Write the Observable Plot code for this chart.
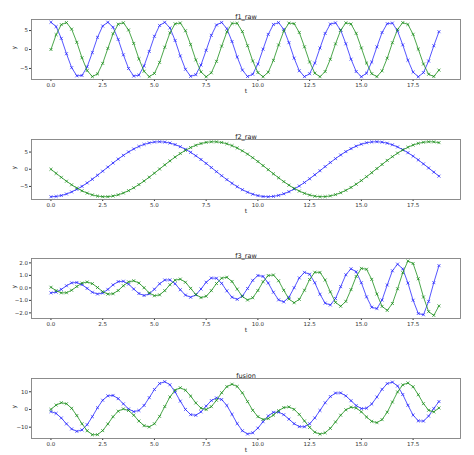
<!DOCTYPE html>
<html><head><meta charset="utf-8">
<script src="https://cdn.jsdelivr.net/npm/d3@7"></script>
<script src="https://cdn.jsdelivr.net/npm/@observablehq/plot@0.6"></script>
<style>
body{margin:0;background:#fff;width:474px;height:455px;position:relative;overflow:hidden;font-family:"DejaVu Sans",sans-serif}
.panel{position:absolute;left:0}
</style></head><body>
<script>
const t = [0,0.25,0.5,0.75,1,1.25,1.5,1.75,2,2.25,2.5,2.75,3,3.25,3.5,3.75,4,4.25,4.5,4.75,5,5.25,5.5,5.75,6,6.25,6.5,6.75,7,7.25,7.5,7.75,8,8.25,8.5,8.75,9,9.25,9.5,9.75,10,10.25,10.5,10.75,11,11.25,11.5,11.75,12,12.25,12.5,12.75,13,13.25,13.5,13.75,14,14.25,14.5,14.75,15,15.25,15.5,15.75,16,16.25,16.5,16.75,17,17.25,17.5,17.75,18,18.25,18.5,18.75];

const f1Blue = [7.20,6.04,2.94,-1.11,-4.80,-6.95,-6.86,-4.57,-0.81,3.22,
6.20,7.19,5.87,2.67,-1.40,-5.02,-7.02,-6.76,-4.33,-0.51,
3.48,6.35,7.17,5.70,2.38,-1.70,-5.23,-7.08,-6.65,-4.09,
-0.21,3.74,6.48,7.14,5.50,2.10,-1.99,-5.43,-7.13,-6.53,
-3.84,0.09,3.99,6.61,7.10,5.31,1.81,-2.28,-5.62,-7.16,
-6.40,-3.58,0.39,4.24,6.72,7.04,5.10,1.51,-2.56,-5.81,
-7.19,-6.25,-3.31,0.69,4.48,6.82,6.97,4.88,1.22,-2.84,
-5.98,-7.20,-6.10,-3.04,0.99,4.71];
const f1Green = [0,3.92,6.57,7.11,5.37,1.90,-2.19,-5.56,-7.15,-6.44,
-3.66,0.30,4.16,6.69,7.06,5.16,1.60,-2.47,-5.75,-7.18,
-6.31,-3.40,0.60,4.40,6.79,7.00,4.95,1.31,-2.75,-5.92,
-7.20,-6.15,-3.13,0.90,4.64,6.89,6.92,4.73,1.01,-3.03,
-6.09,-7.20,-5.99,-2.86,1.20,4.87,6.97,6.83,4.50,0.71,
-3.30,-6.25,-7.19,-5.82,-2.58,1.49,5.08,7.04,6.73,4.26,
0.41,-3.57,-6.39,-7.17,-5.64,-2.29,1.79,5.29,7.10,6.62,
4.01,0.11,-3.83,-6.53,-7.13,-5.44];

const f2Blue = [-8.00,-7.91,-7.64,-7.20,-6.60,-5.85,-4.97,-3.98,-2.90,-1.75,
-0.57,0.63,1.82,2.96,4.04,5.03,5.90,6.64,7.23,7.66,
7.92,8.00,7.90,7.62,7.17,6.56,5.81,4.92,3.92,2.84,
1.69,0.50,-0.70,-1.88,-3.02,-4.10,-5.08,-5.95,-6.68,-7.26,
-7.68,-7.93,-8.00,-7.89,-7.60,-7.14,-6.53,-5.76,-4.87,-3.86,
-2.77,-1.62,-0.43,0.77,1.95,3.09,4.15,5.13,5.99,6.72,
7.29,7.70,7.94,8.00,7.88,7.58,7.11,6.48,5.71,4.81,
3.80,2.71,1.55,0.37,-0.83,-2.01];
const f2Green = [0,-1.20,-2.36,-3.48,-4.52,-5.45,-6.27,-6.94,-7.46,-7.81,
-7.98,-7.98,-7.79,-7.43,-6.91,-6.22,-5.40,-4.46,-3.42,-2.30,
-1.13,0.07,1.26,2.43,3.54,4.57,5.50,6.31,6.97,7.48,
7.82,7.98,7.97,7.78,7.41,6.87,6.18,5.35,4.41,3.36,
2.24,1.06,-0.13,-1.33,-2.49,-3.60,-4.63,-5.56,-6.35,-7.00,
-7.50,-7.84,-7.99,-7.96,-7.76,-7.38,-6.84,-6.14,-5.30,-4.35,
-3.30,-2.17,-1.00,0.20,1.39,2.57,3.66,4.68,5.60,6.40,
7.04,7.53,7.85,7.99,7.96,7.74];

const f3Blue = [-0.40,-0.34,-0.12,0.17,0.40,0.43,0.26,-0.04,-0.35,-0.49,
-0.41,-0.12,0.24,0.50,0.53,0.30,-0.09,-0.45,-0.61,-0.48,
-0.11,0.33,0.63,0.64,0.33,-0.15,-0.58,-0.75,-0.56,-0.09,
0.45,0.79,0.77,0.36,-0.24,-0.75,-0.92,-0.65,-0.05,0.60,
0.99,0.92,0.39,-0.35,-0.96,-1.12,-0.75,0.01,0.80,1.24,
1.09,0.41,-0.51,-1.22,-1.37,-0.85,0.10,1.05,1.53,1.29,
0.41,-0.72,-1.55,-1.66,-0.97,0.23,1.37,1.90,1.52,0.39,
-0.99,-2.05,-2.15,-1.08,0.42,1.78];
const f3Green = [0.05,-0.22,-0.40,-0.39,-0.19,0.11,0.38,0.47,0.34,0.03,
-0.30,-0.50,-0.47,-0.21,0.17,0.48,0.57,0.39,0.01,-0.40,
-0.63,-0.56,-0.22,0.25,0.62,0.70,0.45,-0.04,-0.53,-0.78,
-0.67,-0.22,0.35,0.78,0.85,0.51,-0.10,-0.69,-0.97,-0.79,
-0.21,0.49,0.99,1.03,0.57,-0.19,-0.89,-1.19,-0.92,-0.19,
0.67,1.25,1.24,0.63,-0.32,-1.16,-1.47,-1.08,-0.14,0.91,
1.56,1.49,0.68,-0.49,-1.48,-1.80,-1.25,-0.07,1.21,2.15,
1.95,0.73,-0.73,-1.90,-2.20,-1.44];

const fusionBlue = [-1.20,-2.21,-4.82,-8.14,-11.00,-12.37,-11.57,-8.59,-4.06,0.98,
5.22,7.70,7.93,6.13,3.17,0.31,-1.21,-0.57,2.29,6.67,
11.29,14.68,15.70,13.96,9.88,4.71,0.00,-2.91,-3.29,-1.34,
1.93,5.03,6.55,5.62,2.24,-2.75,-7.99,-12.03,-13.86,-13.19,
-10.53,-6.92,-3.62,-1.63,-1.46,-2.95,-5.47,-8.03,-9.69,-9.78,
-8.08,-4.79,-0.55,3.79,7.30,9.28,9.35,7.69,4.96,2.20,
0.51,0.73,3.08,7.03,11.39,14.63,15.45,13.26,8.45,2.36,
-3.17,-6.44,-6.56,-3.75,0.58,4.48];
const fusionGreen = [0.05,2.50,3.81,3.24,0.66,-3.44,-8.08,-12.03,-14.27,-14.22,
-11.94,-8.18,-4.10,-0.95,0.32,-0.58,-3.23,-6.54,-9.16,-9.88,
-8.07,-3.89,1.64,7.08,10.95,12.27,10.90,7.58,3.69,0.78,
-0.05,1.61,5.19,9.46,12.90,14.27,13.00,9.39,4.45,-0.46,
-4.06,-5.65,-5.13,-3.16,-0.72,1.08,1.45,0.08,-2.77,-6.48,
-10.13,-12.84,-13.94,-13.15,-10.66,-7.05,-3.23,-0.18,1.29,0.82,
-1.33,-4.25,-6.71,-7.46,-5.73,-1.52,4.20,9.90,13.91,14.97,
12.83,8.37,3.29,-0.44,-1.37,0.86];

const titles = ["f1_raw", "f2_raw", "f3_raw", "fusion"];
const xTicks = [0, 2.5, 5, 7.5, 10, 12.5, 15, 17.5];
const yTicksList = [[-5, 0, 5], [-5, 0, 5], [-2, -1, 0, 1, 2], [-10, 0, 10]];
const xLabel = "t";
const yLabel = "y";

const panels = [
  {title: titles[0], blue: f1Blue, green: f1Green, yDomain: [-7.92, 7.92], yTicks: yTicksList[0], top: 0, height: 120},
  {title: titles[1], blue: f2Blue, green: f2Green, yDomain: [-8.8, 8.65], yTicks: yTicksList[1], top: 120, height: 119},
  {title: titles[2], blue: f3Blue, green: f3Green, yDomain: [-2.45, 2.35], yTicks: yTicksList[2], top: 239, height: 120},
  {title: titles[3], blue: fusionBlue, green: fusionGreen, yDomain: [-16.4, 17.5], yTicks: yTicksList[3], top: 359, height: 96}
];

const BLUE = "#1f1fff", GREEN = "#138a13";

for (const p of panels) {
  const blueRows = t.map((v, i) => ({t: v, y: p.blue[i]}));
  const greenRows = t.map((v, i) => ({t: v, y: p.green[i]}));
  const chart = Plot.plot({
    width: 474,
    height: p.height,
    marginLeft: 31,
    marginRight: 14,
    marginTop: 19,
    marginBottom: p.height - 79,
    style: {background: "transparent", fontFamily: "DejaVu Sans, sans-serif", fontSize: "5.5px", color: "#333"},
    x: {domain: [-0.94, 19.79]},
    y: {domain: p.yDomain},
    marks: [
      Plot.axisX({ticks: xTicks, tickFormat: d3.format(".1f"), tickSize: 2, tickPadding: 1.5, label: null, fontSize: 5.5}),
      Plot.axisY({ticks: p.yTicks, tickSize: 2, tickPadding: 1.5, label: null, fontSize: 5.5}),
      Plot.line(blueRows, {x: "t", y: "y", stroke: BLUE, strokeWidth: 0.9, strokeOpacity: 0.85}),
      Plot.dot(blueRows, {x: "t", y: "y", symbol: "times", r: 1.5, stroke: BLUE, strokeWidth: 0.7}),
      Plot.line(greenRows, {x: "t", y: "y", stroke: GREEN, strokeWidth: 0.9, strokeOpacity: 0.85}),
      Plot.dot(greenRows, {x: "t", y: "y", symbol: "times", r: 1.5, stroke: GREEN, strokeWidth: 0.7}),
      Plot.frame({stroke: "#808080", strokeWidth: 0.9}),
      Plot.text([p.title], {frameAnchor: "top", text: d => d, dy: -5, fontSize: 6.5, fill: "#222"}),
      Plot.text([xLabel], {frameAnchor: "bottom", text: d => d, dy: 13, fontSize: 6, fill: "#222"}),
      Plot.text([yLabel], {frameAnchor: "left", text: d => d, dx: -17, rotate: -90, fontSize: 6, fill: "#222"})
    ]
  });
  const div = document.createElement("div");
  div.className = "panel";
  div.style.top = p.top + "px";
  div.append(chart);
  document.body.append(div);
}
</script>
</body></html>
